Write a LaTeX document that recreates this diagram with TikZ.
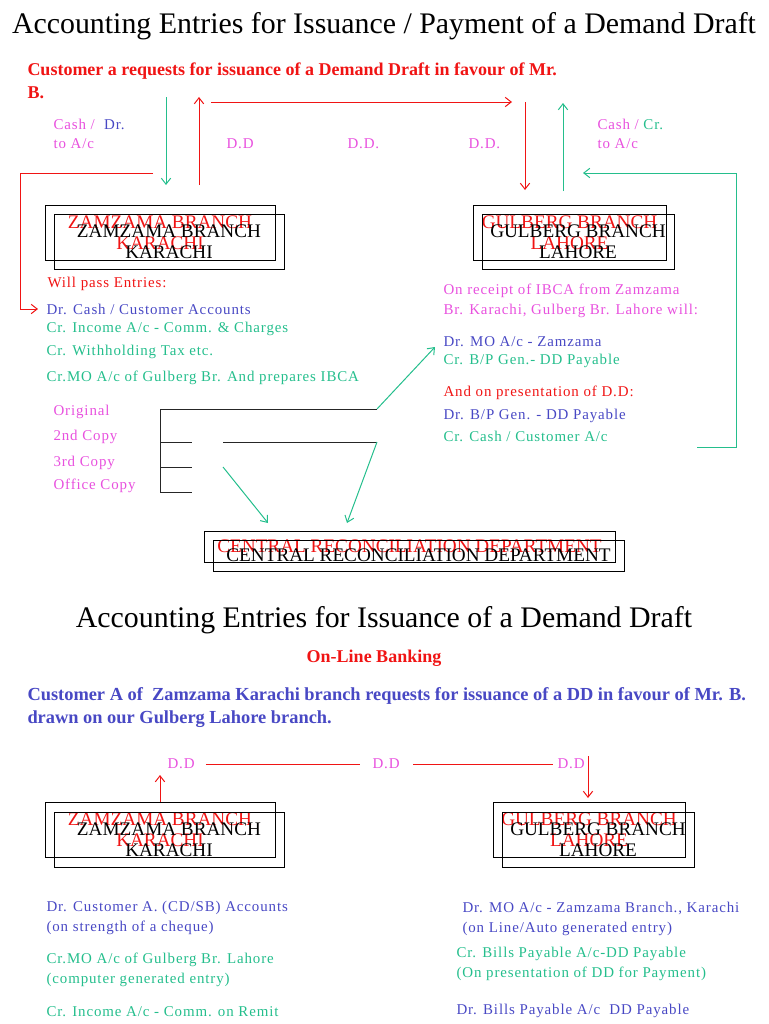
\documentclass[tikz,border=0pt]{standalone}
\usepackage{fontspec}
\setmainfont{Liberation Serif}
\newfontfamily\entryfont[LetterSpace=6]{Liberation Serif}
\usetikzlibrary{arrows.meta}

\definecolor{ddred}{RGB}{240,20,20}
\definecolor{ddpink}{RGB}{232,80,222}
\definecolor{ddblue}{RGB}{72,72,196}
\definecolor{ddgreen}{RGB}{36,190,140}

\tikzset{every picture/.style={line width=0.75pt}}

\begin{document}
\begin{tikzpicture}[x=0.75pt,y=0.75pt,yscale=-1,xscale=1,
  entry/.style={anchor=west,inner sep=0pt,font=\entryfont\fontsize{11.2}{13.4}\selectfont},
  heading/.style={inner sep=0pt,font=\fontsize{22.4}{26}\selectfont},
  lead/.style={anchor=west,inner sep=0pt,align=left,font=\bfseries\fontsize{13.5}{17.25}\selectfont},
  branchred/.style={draw=black,inner sep=0pt,align=center,text=ddred,font=\fontsize{14.4}{15.75}\selectfont},
  branchblk/.style={branchred,text=black},
  flow/.style={-{Straight Barb[length=4.5pt,width=7pt]}}]
	\useasboundingbox (0,0) rectangle (768,1024);

	% Text Node
	\draw (384,26) node[heading] (title) {Accounting Entries for Issuance / Payment of a Demand Draft};
	% Text Node
	\draw (27,81) node[lead,text=ddred] (request) {Customer a requests for issuance of a Demand Draft in favour of Mr.\\B.};

	% Text Node
	\draw (53,124) node[entry] (cashdr) {\color{ddpink}Cash /\ \ \color{ddblue}Dr.};
	\draw (53,144) node[entry,text=ddpink] (toac1) {to A/c};
	% Text Node
	\draw (597,124) node[entry] (cashcr) {\color{ddpink}Cash / \color{ddgreen}Cr.};
	\draw (597,144) node[entry,text=ddpink] (toac2) {to A/c};
	% Text Node
	\draw (226,144) node[entry,text=ddpink] (dda) {D.D};
	\draw (347,144) node[entry,text=ddpink] (ddb) {D.D.};
	\draw (468,144) node[entry,text=ddpink] (ddc) {D.D.};

	%Straight Lines
	\coordinate (cashin) at (166,97);
	\coordinate (cashout) at (166,185);
	\draw[flow,ddgreen] (cashin) -- (cashout);
	\coordinate (ddup1) at (199,185);
	\coordinate (ddup2) at (199,97);
	\draw[flow,ddred] (ddup1) -- (ddup2);
	\coordinate (ddacross1) at (211,102);
	\coordinate (ddacross2) at (512,102);
	\draw[flow,ddred] (ddacross1) -- (ddacross2);
	\coordinate (dddown1) at (525,102);
	\coordinate (dddown2) at (525,190);
	\draw[flow,ddred] (dddown1) -- (dddown2);
	\coordinate (payup1) at (563,191);
	\coordinate (payup2) at (563,103);
	\draw[flow,ddgreen] (payup1) -- (payup2);

	%Shape: Rectangle
	\draw (160,232.5) node[branchred,minimum width=172.5pt,minimum height=41.25pt] (zamzamaR) {ZAMZAMA BRANCH\\KARACHI};
	\draw (169,241.5) node[branchblk,minimum width=172.5pt,minimum height=41.25pt] (zamzama) {ZAMZAMA BRANCH\\KARACHI};
	%Shape: Rectangle
	\draw (569.5,232.5) node[branchred,minimum width=144.75pt,minimum height=41.25pt] (gulbergR) {GULBERG BRANCH\\LAHORE};
	\draw (578,241.5) node[branchblk,minimum width=144pt,minimum height=41.25pt] (gulberg) {GULBERG BRANCH\\LAHORE};

	% Text Node
	\draw (47,284) node[entry,text=ddred] (willpass) {Will pass Entries:};
	\draw (46,309) node[entry,text=ddblue] (drcash) {Dr. Cash / Customer Accounts};
	\draw (46,329) node[entry,text=ddgreen] (crincome) {Cr. Income A/c - Comm. \& Charges};
	\draw (46,352) node[entry,text=ddgreen] (crtax) {Cr. Withholding Tax etc.};
	\draw (46,378) node[entry,text=ddgreen] (crmo) {Cr.MO A/c of Gulberg Br. And prepares IBCA};

	% Text Node
	\draw (443,291) node[entry,text=ddpink] (receipt1) {On receipt of IBCA from Zamzama};
	\draw (443,311) node[entry,text=ddpink] (receipt2) {Br. Karachi, Gulberg Br. Lahore will:};
	\draw (443,342) node[entry,text=ddblue] (drmo) {Dr. MO A/c - Zamzama};
	\draw (443,361) node[entry,text=ddgreen] (crbp) {Cr. B/P Gen.- DD Payable};
	\draw (443,393) node[entry,text=ddred] (presentation) {And on presentation of D.D:};
	\draw (443,416) node[entry,text=ddblue] (drbp) {Dr. B/P Gen. - DD Payable};
	\draw (443,436) node[entry,text=ddgreen] (crcash) {Cr. Cash / Customer A/c};

	%Straight Lines
	\coordinate (cashback1) at (153,173);
	\coordinate (cashback2) at (20,173);
	\coordinate (cashback3) at (20,309);
	\coordinate (cashback4) at (38,309);
	\draw[flow,ddred] (cashback1) -- (cashback2) -- (cashback3) -- (cashback4);
	\coordinate (payback1) at (697,447);
	\coordinate (payback2) at (736,447);
	\coordinate (payback3) at (736,173);
	\coordinate (payback4) at (583,173);
	\draw[flow,ddgreen] (payback1) -- (payback2) -- (payback3) -- (payback4);

	% Text Node
	\draw (53,412) node[entry,text=ddpink] (original) {Original};
	\draw (53,437) node[entry,text=ddpink] (copy2) {2nd Copy};
	\draw (53,463) node[entry,text=ddpink] (copy3) {3rd Copy};
	\draw (53,486) node[entry,text=ddpink] (copyoffice) {Office Copy};

	%Straight Lines
	\coordinate (orig1) at (377,409);
	\coordinate (spine1) at (160,409);
	\coordinate (spine2) at (160,492);
	\coordinate (office1) at (192,492);
	\draw[black!85] (orig1) -- (spine1) -- (spine2) -- (office1);
	\draw[black!85] (160,467) -- (192,467);
	\draw[black!85] (160,442) -- (192,442);
	\coordinate (second1) at (223,442);
	\coordinate (second2) at (377,442);
	\draw[black!85] (second1) -- (second2);
	\coordinate (third1) at (223,467);
	\coordinate (ibca) at (435,347);
	\draw[flow,ddgreen] (orig1) -- (ibca);
	\coordinate (crd1) at (268,523);
	\coordinate (crd2) at (347,523);
	\draw[flow,ddgreen] (third1) -- (crd1);
	\draw[flow,ddgreen] (second2) -- (crd2);

	%Shape: Rectangle
	\draw (409.5,546.5) node[branchred,minimum width=308.25pt,minimum height=23.25pt] (centralR) {CENTRAL RECONCILIATION DEPARTMENT};
	\draw (418.5,555.5) node[branchblk,minimum width=308.25pt,minimum height=23.25pt] (central) {CENTRAL RECONCILIATION DEPARTMENT};

	% Text Node
	\draw (384,620) node[heading] (title2) {Accounting Entries for Issuance of a Demand Draft};
	\draw (374,658) node[inner sep=0pt,text=ddred,font=\bfseries\fontsize{13.5}{15}\selectfont] (online) {On-Line Banking};
	\draw (27,708) node[lead,text=ddblue,font=\bfseries\fontsize{13.8}{17.25}\selectfont] (customerA) {Customer A of\ \ Zamzama Karachi branch requests for issuance of a DD in favour of Mr. B.\\drawn on our Gulberg Lahore branch.};

	% Text Node
	\draw (167,764) node[entry,text=ddpink] (odd1) {D.D};
	\draw (372,764) node[entry,text=ddpink] (odd2) {D.D};
	\draw (557,764) node[entry,text=ddpink] (odd3) {D.D};
	%Straight Lines
	\draw[ddred,shorten <=8pt,shorten >=9pt] (odd1.east) -- (odd2.west);
	\draw[ddred,shorten <=10pt,shorten >=3pt] (odd2.east) -- (odd3.west);
	\coordinate (onlineup1) at (160,803);
	\coordinate (onlineup2) at (160,775);
	\draw[flow,ddred] (onlineup1) -- (onlineup2);
	\coordinate (onlinedown1) at (588,756);
	\coordinate (onlinedown2) at (588,798);
	\draw[flow,ddred] (onlinedown1) -- (onlinedown2);

	%Shape: Rectangle
	\draw (160,830) node[branchred,minimum width=172.5pt,minimum height=41.25pt] (zamzama2R) {ZAMZAMA BRANCH\\KARACHI};
	\draw (169,839.5) node[branchblk,minimum width=172.5pt,minimum height=41.25pt] (zamzama2) {ZAMZAMA BRANCH\\KARACHI};
	%Shape: Rectangle
	\draw (589,830) node[branchred,minimum width=144pt,minimum height=41.25pt] (gulberg2R) {GULBERG BRANCH\\LAHORE};
	\draw (598,839.5) node[branchblk,minimum width=144pt,minimum height=41.25pt] (gulberg2) {GULBERG BRANCH\\LAHORE};

	% Text Node
	\draw (46,908) node[entry,text=ddblue] (drcustomer) {Dr. Customer A. (CD/SB) Accounts};
	\draw (46,928) node[entry,text=ddblue] (cheque) {(on strength of a cheque)};
	\draw (46,960) node[entry,text=ddgreen] (crmo2) {Cr.MO A/c of Gulberg Br. Lahore};
	\draw (46,980) node[entry,text=ddgreen] (computer) {(computer generated entry)};
	\draw (46,1012) node[entry,text=ddgreen] (remit) {Cr. Income A/c - Comm. on Remit};
	% Text Node
	\draw (462,908) node[entry,text=ddblue] (drmo2) {Dr. MO A/c - Zamzama Branch., Karachi};
	\draw (462,929) node[entry,text=ddblue] (auto) {(on Line/Auto generated entry)};
	\draw (456,954) node[entry,text=ddgreen] (crbills) {Cr. Bills Payable A/c-DD Payable};
	\draw (456,974) node[entry,text=ddgreen] (presentDD) {(On presentation of DD for Payment)};
	\draw (456,1011) node[entry,text=ddblue] (drbills) {Dr. Bills Payable A/c\ \ DD Payable};

\end{tikzpicture}
\end{document}
